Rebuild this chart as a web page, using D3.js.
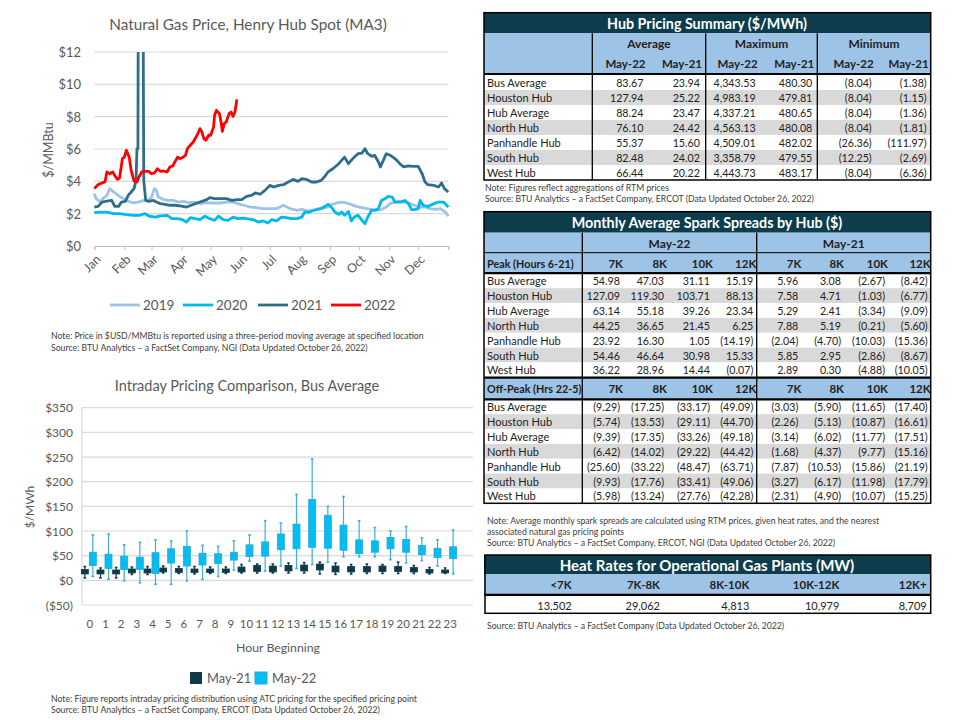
<!DOCTYPE html>
<html>
<head>
<meta charset="utf-8">
<script src="https://cdn.jsdelivr.net/npm/d3@7"></script>
<style>
body{margin:0;background:#fff}
text{font-family:Lato,"Open Sans",sans-serif}
</style>
</head>
<body>
<div id="chart"></div>
<script>
// Henry Hub MA3, [day of year, $/MMBtu]
var ng2019=[[0,3.24],[2,2.93],[6,2.72],[9,2.93],[13,3.13],[16,3.55],[20,3.34],[23,3.2],[26,3.07],[32,2.87],[37,2.72],[40,2.66],[45,2.72],[51,2.82],[56,2.82],[59,3.03],[62,3.55],[64,3.44],[66,3.03],[71,2.89],[76,2.82],[81,2.82],[87,2.72],[92,2.76],[97,2.68],[102,2.72],[109,2.62],[116,2.68],[123,2.66],[130,2.66],[136,2.72],[143,2.72],[148,2.62],[154,2.52],[161,2.41],[167,2.37],[174,2.31],[181,2.31],[188,2.31],[195,2.52],[202,2.31],[209,2.21],[214,2.27],[219,2.17],[224,2.21],[229,2.27],[234,2.31],[240,2.41],[245,2.58],[250,2.66],[255,2.72],[260,2.66],[265,2.56],[270,2.45],[276,2.37],[281,2.31],[286,2.25],[291,2.21],[296,2.25],[301,2.41],[305,2.62],[310,2.72],[315,2.78],[320,2.72],[325,2.62],[330,2.52],[335,2.41],[341,2.41],[346,2.31],[352,2.27],[357,2.31],[362,2.1],[365,1.84]];
var ng2020=[[0,2.06],[6,2.1],[13,2.1],[20,2.0],[26,2.0],[33,1.94],[40,1.9],[47,1.9],[52,2.0],[57,1.84],[63,1.79],[68,1.86],[75,1.9],[80,1.69],[85,1.69],[90,1.65],[95,1.48],[99,1.75],[104,1.69],[109,1.63],[114,1.84],[119,1.69],[124,1.59],[128,1.84],[133,1.63],[138,1.59],[143,1.79],[148,1.69],[154,1.73],[159,1.67],[164,1.63],[169,1.48],[174,1.55],[179,1.42],[183,1.63],[188,1.55],[193,1.79],[198,1.75],[203,1.69],[209,1.69],[214,1.79],[217,2.1],[222,2.1],[227,2.21],[233,2.31],[238,2.45],[241,2.58],[245,2.37],[248,2.1],[252,1.96],[255,2.1],[258,1.9],[262,2.14],[265,1.55],[268,1.79],[272,1.9],[276,1.59],[279,1.38],[282,1.79],[286,2.21],[289,2.21],[293,2.31],[296,2.82],[300,2.93],[303,3.07],[307,3.03],[310,2.72],[313,2.72],[317,2.72],[320,2.82],[324,2.62],[327,2.25],[330,2.25],[334,2.31],[336,2.82],[339,2.52],[344,2.45],[350,2.62],[355,2.72],[360,2.72],[365,2.41]];
var ng2021=[[0,2.41],[4,2.45],[8,2.72],[13,2.78],[18,2.82],[21,2.45],[25,2.45],[28,2.72],[32,2.76],[35,3.13],[38,3.34],[41,3.55],[43,4.06],[44,6.02],[45,6.02],[45.5,20],[50,20],[51,4.06],[53,2.82],[56,2.76],[61,2.82],[64,2.72],[68,2.62],[73,2.58],[78,2.52],[83,2.52],[90,2.47],[95,2.41],[100,2.52],[106,2.66],[111,2.76],[116,2.87],[119,2.99],[124,2.93],[130,2.93],[136,2.93],[142,2.82],[147,2.87],[152,2.87],[157,3.07],[162,3.13],[166,3.28],[171,3.2],[176,3.44],[181,3.75],[185,3.65],[190,3.75],[195,3.79],[200,3.96],[205,4.12],[210,4.0],[214,4.16],[219,4.12],[224,3.96],[229,3.96],[234,4.06],[238,4.33],[241,4.58],[246,4.78],[252,5.09],[255,5.3],[258,5.5],[262,5.09],[265,5.3],[268,5.5],[272,5.71],[276,5.75],[279,6.02],[282,5.71],[286,5.55],[289,5.61],[293,5.2],[295,4.89],[298,5.3],[301,5.71],[305,5.61],[308,5.5],[312,5.3],[315,5.09],[319,4.89],[324,4.95],[329,4.93],[334,4.93],[338,4.47],[341,3.96],[344,3.79],[350,3.75],[355,3.65],[358,3.9],[361,3.55],[365,3.34]];
var ng2022=[[0,3.55],[4,3.8],[8,3.9],[11,3.96],[13,4.58],[16,4.47],[19,4.58],[21,4.37],[24,4.12],[26,4.2],[29,5.4],[31,5.5],[33,5.92],[36,5.5],[38,4.68],[41,4.02],[44,3.96],[46,4.27],[49,4.58],[52,4.62],[56,4.62],[59,4.47],[62,4.52],[65,4.78],[68,4.62],[71,4.64],[75,4.58],[78,4.89],[81,4.95],[83,5.2],[86,5.5],[88,5.4],[91,5.47],[94,5.6],[96,6.02],[99,6.23],[102,6.43],[106,6.85],[109,7.26],[111,7.05],[113,6.64],[115,6.54],[118,6.85],[120,6.85],[123,7.36],[124,8.08],[126,8.39],[129,8.19],[131,7.57],[132,7.09],[134,7.57],[136,7.67],[139,8.19],[141,8.29],[143,8.02],[145,8.29],[147,9.07]];
var years=["2019","2020","2021","2022"];
var yearColors=["#9DC3E6","#00B8F0","#2E6E8A","#FF0000"];
var months=["Jan","Feb","Mar","Apr","May","Jun","Jul","Aug","Sep","Oct","Nov","Dec"];
var monthStart=[0,31,59,90,120,151,181,212,243,273,304,334];
var priceTicks=[0,2,4,6,8,10,12];

// intraday box plot, $/MWh
var hours=d3.range(24);
var may21Min=[5,5,5,12,12,15,14,13,14,14,15,15,15,15,15,13,12,13,14,14,14,14,13,14];
var may21Q1=[13,13,13,15,15,17,16,16,16,16,17,18,17,19,19,21,17,17,17,18,18,17,15,15];
var may21Med=[17,17,17,19,18,20,20,19,19,19,21,22,22,25,25,28,23,22,22,24,23,21,18,18];
var may21Q3=[22,21,21,23,23,25,24,23,23,23,27,30,29,30,31,33,29,28,28,29,28,26,22,21];
var may21Max=[28,25,26,27,28,29,28,28,27,27,32,33,33,35,36,37,35,32,33,32,37,30,26,25];
var may22Min=[8,2,-1,-5,-8,-8,-1,2,8,21,39,19,29,24,32,37,48,48,48,42,35,40,29,13];
var may22Q1=[30,24,22,22,14,35,29,31,34,41,48,49,62,64,67,65,61,54,57,64,57,52,46,44];
var may22Med=[45,42,34,40,45,53,48,45,46,50,61,65,73,77,86,88,77,70,70,76,66,63,56,55];
var may22Q3=[57,53,49,47,56,64,69,55,54,57,72,78,94,114,164,132,112,82,80,87,83,71,65,68];
var may22Max=[92,94,72,77,82,80,100,71,69,80,92,121,116,174,246,150,170,121,107,100,109,86,82,102];
var boxTicks=[-50,0,50,100,150,200,250,300,350];

// hub pricing summary ($/MWh)
var hubs=["Bus Average","Houston Hub","Hub Average","North Hub","Panhandle Hub","South Hub","West Hub"];
var avgMay22=[83.67,127.94,88.24,76.10,55.37,82.48,66.44];
var avgMay21=[23.94,25.22,23.47,24.42,15.60,24.02,20.22];
var maxMay22=[4343.53,4983.19,4337.21,4563.13,4509.01,3358.79,4443.73];
var maxMay21=[480.30,479.81,480.65,480.08,482.02,479.55,483.17];
var minMay22=[-8.04,-8.04,-8.04,-8.04,-26.36,-12.25,-8.04];
var minMay21=[-1.38,-1.15,-1.36,-1.81,-111.97,-2.69,-6.36];

// spark spreads ($), columns 7K 8K 10K 12K
var heatRates=["7K","8K","10K","12K"];
var peakMay22=[[54.98,47.03,31.11,15.19],[127.09,119.30,103.71,88.13],[63.14,55.18,39.26,23.34],[44.25,36.65,21.45,6.25],[23.92,16.30,1.05,-14.19],[54.46,46.64,30.98,15.33],[36.22,28.96,14.44,-0.07]];
var peakMay21=[[5.96,3.08,-2.67,-8.42],[7.58,4.71,-1.03,-6.77],[5.29,2.41,-3.34,-9.09],[7.88,5.19,-0.21,-5.60],[-2.04,-4.70,-10.03,-15.36],[5.85,2.95,-2.86,-8.67],[2.89,0.30,-4.88,-10.05]];
var offMay22=[[-9.29,-17.25,-33.17,-49.09],[-5.74,-13.53,-29.11,-44.70],[-9.39,-17.35,-33.26,-49.18],[-6.42,-14.02,-29.22,-44.42],[-25.60,-33.22,-48.47,-63.71],[-9.93,-17.76,-33.41,-49.06],[-5.98,-13.24,-27.76,-42.28]];
var offMay21=[[-3.03,-5.90,-11.65,-17.40],[-2.26,-5.13,-10.87,-16.61],[-3.14,-6.02,-11.77,-17.51],[-1.68,-4.37,-9.77,-15.16],[-7.87,-10.53,-15.86,-21.19],[-3.27,-6.17,-11.98,-17.79],[-2.31,-4.90,-10.07,-15.25]];

// heat rates for operational gas plants (MW)
var heatBins=["<7K","7K-8K","8K-10K","10K-12K","12K+"];
var heatMW=[13502,29062,4813,10979,8709];

var svg=d3.select("#chart").append("svg").attr("width",960).attr("height",720);
var grey="#595959", grid="#D9D9D9", noteC="#404040";
var navy="#0D3D4D", lightBlue="#9DC3E6", rowGrey="#D9D9D9";
var cellSize=10.7, headSize=11.5, noteSize=8.7;

function txt(g,x,y,s,o){
  o=o||{};
  return g.append("text").attr("x",x).attr("y",y).text(s)
    .attr("font-size",o.size||12).attr("fill",o.fill||"#222")
    .attr("font-weight",o.bold?"bold":"normal")
    .attr("text-anchor",o.anchor||"start")
    .attr("dominant-baseline","central");
}

//////// line chart
var lc=svg.append("g");
var xL=d3.scaleLinear().domain([0,365]).range([94.3,448.3]);
var yL=d3.scaleLinear().domain([0,12]).range([246,52]);

txt(lc,248,24,"Natural Gas Price, Henry Hub Spot (MA3)",{size:15.3,fill:grey,anchor:"middle"});

lc.selectAll(".gl").data(priceTicks.slice(1)).enter().append("line")
  .attr("x1",xL(0)).attr("x2",xL(365)).attr("y1",d=>yL(d)).attr("y2",d=>yL(d))
  .attr("stroke",grid).attr("stroke-width",1.2);
lc.selectAll(".yl").data(priceTicks).enter().append("text")
  .attr("x",81).attr("y",d=>yL(d)).text(d=>"$"+d)
  .attr("font-size",13).attr("fill",grey).attr("text-anchor","end").attr("dominant-baseline","central");
lc.append("text").attr("transform","translate(48,150) rotate(-90)").text("$/MMBtu")
  .attr("font-size",12.5).attr("fill",grey).attr("text-anchor","middle").attr("dominant-baseline","central");

var xAx=lc.append("g").attr("transform","translate(0,"+yL(0)+")")
  .call(d3.axisBottom(xL).tickValues(monthStart.concat([365])).tickSize(4).tickFormat(""));
xAx.select(".domain").attr("stroke","#BFBFBF");
xAx.selectAll(".tick line").attr("stroke","#BFBFBF");
lc.selectAll(".ml").data(months).enter().append("text")
  .attr("transform",(d,i)=>"translate("+(xL(monthStart[i])+4)+",257) rotate(-45)")
  .text(d=>d).attr("font-size",12.5).attr("fill",grey).attr("text-anchor","end").attr("dominant-baseline","central");

svg.append("clipPath").attr("id","lcClip").append("rect")
  .attr("x",90).attr("y",yL(12)).attr("width",365).attr("height",yL(0)-yL(12)+5);
var line=d3.line().x(d=>xL(d[0])).y(d=>yL(d[1]));
lc.append("g").attr("clip-path","url(#lcClip)").selectAll("path")
  .data([ng2019,ng2020,ng2021,ng2022]).enter().append("path")
  .attr("d",line).attr("fill","none").attr("stroke",(d,i)=>yearColors[i])
  .attr("stroke-width",2.8).attr("stroke-linejoin","round");

var legX=[110,183,258,331];
years.forEach(function(y,i){
  lc.append("line").attr("x1",legX[i]).attr("x2",legX[i]+30).attr("y1",305).attr("y2",305)
    .attr("stroke",yearColors[i]).attr("stroke-width",2.8);
  txt(lc,legX[i]+33,305,y,{size:13.5,fill:grey});
});
txt(lc,51,335,"Note: Price in $USD/MMBtu is reported using a three-period moving average at specified location",{size:noteSize,fill:noteC});
txt(lc,51,347,"Source: BTU Analytics \u2013 a FactSet Company, NGI (Data Updated October 26, 2022)",{size:noteSize,fill:noteC});

//////// box plot
var bp=svg.append("g");
var xB=d3.scaleBand().domain(hours).range([82,458]);
var yB=d3.scaleLinear().domain([-50,350]).range([605,407.7]);

txt(bp,247,385,"Intraday Pricing Comparison, Bus Average",{size:14.5,fill:grey,anchor:"middle"});
bp.selectAll(".gl").data(boxTicks).enter().append("line")
  .attr("x1",82).attr("x2",473).attr("y1",d=>yB(d)).attr("y2",d=>yB(d))
  .attr("stroke",grid).attr("stroke-width",1.2);
bp.append("line").attr("x1",82).attr("x2",82).attr("y1",yB(350)).attr("y2",yB(-50))
  .attr("stroke",grid).attr("stroke-width",1.2);
bp.selectAll(".yl").data(boxTicks).enter().append("text")
  .attr("x",73).attr("y",d=>yB(d)).text(d=>d<0?"($"+(-d)+")":"$"+d)
  .attr("font-size",12).attr("fill",grey).attr("text-anchor","end").attr("dominant-baseline","central");
bp.append("text").attr("transform","translate(29,507) rotate(-90)").text("$/MWh")
  .attr("font-size",12).attr("fill",grey).attr("text-anchor","middle").attr("dominant-baseline","central");
bp.selectAll(".xl").data(hours).enter().append("text")
  .attr("x",d=>xB(d)+xB.bandwidth()/2).attr("y",623).text(d=>d)
  .attr("font-size",11.5).attr("fill",grey).attr("text-anchor","middle").attr("dominant-baseline","central");
txt(bp,278,647,"Hour Beginning",{size:12.3,fill:grey,anchor:"middle"});

function boxes(mins,q1,med,q3,maxs,off,fill,edge,whisk){
  var g=bp.append("g");
  hours.forEach(function(h,i){
    var cx=xB(h)+xB.bandwidth()/2+off, w=7;
    g.append("line").attr("x1",cx).attr("x2",cx).attr("y1",yB(maxs[i])).attr("y2",yB(mins[i]))
      .attr("stroke",whisk).attr("stroke-width",1.2);
    [mins[i],maxs[i]].forEach(function(v){
      g.append("line").attr("x1",cx-1.3).attr("x2",cx+1.3).attr("y1",yB(v)).attr("y2",yB(v))
        .attr("stroke",whisk).attr("stroke-width",1.6);
    });
    g.append("rect").attr("x",cx-w/2).attr("y",yB(q3[i])).attr("width",w)
      .attr("height",yB(q1[i])-yB(q3[i])).attr("fill",fill).attr("stroke",edge).attr("stroke-width",0.8);
    g.append("line").attr("x1",cx-w/2).attr("x2",cx+w/2).attr("y1",yB(med[i])).attr("y2",yB(med[i]))
      .attr("stroke",edge).attr("stroke-width",0.9);
  });
}
boxes(may21Min,may21Q1,may21Med,may21Q3,may21Max,-5,"#0F3A4C","#0F3A4C","#0F3A4C");
boxes(may22Min,may22Q1,may22Med,may22Q3,may22Max,3,"#00BFF3","#2AA6D6","#3AAFD8");

bp.append("rect").attr("x",190).attr("y",672).attr("width",12).attr("height",12).attr("fill","#0F3A4C");
txt(bp,207,678,"May-21",{size:12.8,fill:grey});
bp.append("rect").attr("x",255).attr("y",672).attr("width",12).attr("height",12).attr("fill","#00BFF3").attr("stroke","#2AA6D6");
txt(bp,272,678,"May-22",{size:12.8,fill:grey});
txt(bp,51,698,"Note: Figure reports intraday pricing distribution using ATC pricing for the specified pricing point",{size:noteSize,fill:noteC});
txt(bp,51,709,"Source: BTU Analytics \u2013 a FactSet Company, ERCOT (Data Updated October 26, 2022)",{size:noteSize,fill:noteC});

//////// tables
var f2=d3.format(",.2f");
function acc(v){return v<0?"("+f2(-v)+")":f2(v);}
var TX0=484, TX1=930.7;

function hline(g,y,w){g.append("line").attr("x1",TX0).attr("x2",TX1).attr("y1",y).attr("y2",y).attr("stroke","#000").attr("stroke-width",w);}
function vline(g,x,y0,y1,w){g.append("line").attr("x1",x).attr("x2",x).attr("y1",y0).attr("y2",y1).attr("stroke","#000").attr("stroke-width",w||1.3);}
function band(g,y0,y1,c){g.append("rect").attr("x",TX0).attr("y",y0).attr("width",TX1-TX0).attr("height",y1-y0).attr("fill",c);}
function rows(g,y0,h,labels,cols,xs){
  labels.forEach(function(l,i){
    band(g,y0+i*h,y0+(i+1)*h,i%2?rowGrey:"#fff");
    txt(g,487,y0+i*h+h/2,l,{size:11});
    cols.forEach(function(c,j){txt(g,xs[j],y0+i*h+h/2,acc(c[i]),{size:cellSize,anchor:"end"});});
  });
}

// table 1
var t1=svg.append("g");
band(t1,12.7,33.3,navy);
txt(t1,707,23,"Hub Pricing Summary ($/MWh)",{size:14.3,fill:"#fff",bold:true,anchor:"middle"});
band(t1,33.3,73.3,lightBlue);
var t1x=[643.5,700,755.7,812.3,871.7,926.7];
rows(t1,75,15,hubs,[avgMay22,avgMay21,maxMay22,maxMay21,minMay22,minMay21],t1x);
[["Average",649],["Maximum",761.5],["Minimum",874]].forEach(function(d){txt(t1,d[1],43.5,d[0],{size:12,bold:true,anchor:"middle"});});
["May-22","May-21","May-22","May-21","May-22","May-21"].forEach(function(d,j){txt(t1,t1x[j]+2,63.5,d,{size:headSize,bold:true,anchor:"end"});});
hline(t1,74,2.2);
[592.3,705.7,817.3].forEach(function(x){vline(t1,x,33.3,180);});
t1.append("rect").attr("x",TX0).attr("y",12.7).attr("width",TX1-TX0).attr("height",180-12.7).attr("fill","none").attr("stroke","#000").attr("stroke-width",1.5);
txt(t1,485,187,"Note: Figures reflect aggregations of RTM prices",{size:noteSize,fill:noteC});
txt(t1,485,198.5,"Source: BTU Analytics \u2013 a FactSet Company, ERCOT (Data Updated October 26, 2022)",{size:noteSize,fill:noteC});

// table 2
var t2=svg.append("g");
var t2x=[620,664,710,753.3,798.3,841,885,927.7];
var rh=14.86;
band(t2,211.7,232.7,navy);
txt(t2,707,222.5,"Monthly Average Spark Spreads by Hub ($)",{size:14.3,fill:"#fff",bold:true,anchor:"middle"});
band(t2,232.7,272.7,lightBlue);
band(t2,377.7,399.3,lightBlue);
function colsOf(m){return heatRates.map(function(h,j){return m.map(function(r){return r[j];});});}
rows(t2,273.3,rh,hubs,colsOf(peakMay22).concat(colsOf(peakMay21)),t2x);
rows(t2,399.3,rh,hubs,colsOf(offMay22).concat(colsOf(offMay21)),t2x);
txt(t2,669.5,243,"May-22",{size:12,bold:true,anchor:"middle"});
txt(t2,843.7,243,"May-21",{size:12,bold:true,anchor:"middle"});
txt(t2,487,263,"Peak (Hours 6-21)",{size:10.8,bold:true});
txt(t2,487,388.5,"Off-Peak (Hrs 22-5)",{size:10.8,bold:true});
heatRates.concat(heatRates).forEach(function(h,j){
  txt(t2,t2x[j]+3,263,h,{size:headSize,bold:true,anchor:"end"});
  txt(t2,t2x[j]+3,388.5,h,{size:headSize,bold:true,anchor:"end"});
});
hline(t2,252.7,1);
hline(t2,273.2,2.2);
hline(t2,377.7,2.2);
hline(t2,399.3,2.2);
[582.3,756.7].forEach(function(x){vline(t2,x,232.7,503.3);});
t2.append("rect").attr("x",TX0).attr("y",211.7).attr("width",TX1-TX0).attr("height",503.3-211.7).attr("fill","none").attr("stroke","#000").attr("stroke-width",1.5);
txt(t2,487,520,"Note: Average monthly spark spreads are calculated using RTM prices, given heat rates, and the nearest",{size:noteSize,fill:noteC});
txt(t2,487,531,"associated natural gas pricing points",{size:noteSize,fill:noteC});
txt(t2,487,542,"Source: BTU Analytics \u2013 a FactSet Company, ERCOT, NGI (Data Updated October 26, 2022)",{size:noteSize,fill:noteC});

// table 3
var t3=svg.append("g");
var t3x=[571.7,660,749.3,839.3,926.7];
band(t3,555,574.3,navy);
txt(t3,707,564.8,"Heat Rates for Operational Gas Plants (MW)",{size:15,fill:"#fff",bold:true,anchor:"middle"});
band(t3,574.3,594,lightBlue);
var f0=d3.format(",");
heatBins.forEach(function(b,j){
  txt(t3,t3x[j],584,b,{size:headSize,bold:true,anchor:"end"});
  txt(t3,t3x[j],605,f0(heatMW[j]),{size:11,anchor:"end"});
});
hline(t3,594.8,2.2);
t3.append("rect").attr("x",TX0+1).attr("y",555).attr("width",TX1-TX0-1).attr("height",613.3-555).attr("fill","none").attr("stroke","#000").attr("stroke-width",1.5);
txt(t3,487,625,"Source: BTU Analytics \u2013 a FactSet Company (Data Updated October 26, 2022)",{size:noteSize,fill:noteC});
</script>
</body>
</html>
